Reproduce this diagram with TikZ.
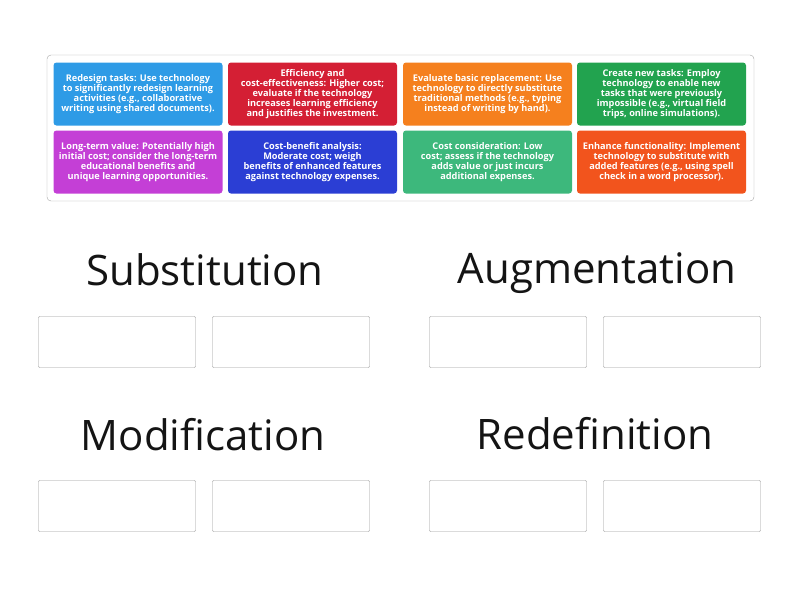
\documentclass[tikz,border=0pt]{standalone}
\usepackage{fontspec}
\setmainfont{Open Sans}
\usepackage{tikz}
\usetikzlibrary{positioning}

\definecolor{cardblue}{HTML}{2E9BE6}
\definecolor{cardred}{HTML}{D41F34}
\definecolor{cardorange}{HTML}{F5801E}
\definecolor{cardgreen}{HTML}{22A34F}
\definecolor{cardpurple}{HTML}{C43FD6}
\definecolor{cardnavy}{HTML}{2B3ED4}
\definecolor{cardteal}{HTML}{3DB87C}
\definecolor{cardflame}{HTML}{F2541D}

\tikzset{
  card/.style={rounded corners=3pt, minimum width=169pt, minimum height=63pt,
    inner sep=0pt, align=center, text=white,
    font=\fontsize{9.2}{10}\selectfont\bfseries},
  slot/.style={draw=black!40, fill=white, minimum width=157pt, minimum height=51pt,
    rounded corners=1pt, inner sep=0pt},
  heading/.style={font=\fontsize{42}{44}\selectfont, text=black!92, anchor=base}
}

\begin{document}
\begin{tikzpicture}[x=1pt,y=-1pt]
				\useasboundingbox (0,0) rectangle (800,600);
				\draw[black!35, rounded corners=4pt] (47,55) rectangle (754,201);
				% cards, upper row
				\node[card, fill=cardblue] (redesign) at (138,94) {Redesign tasks: Use technology\\to significantly redesign learning\\activities (e.g., collaborative\\writing using shared documents).};
				\node[card, fill=cardred] (efficiency) at (312.5,94) {Efficiency and\\cost-effectiveness: Higher cost;\\evaluate if the technology\\increases learning efficiency\\and justifies the investment.};
				\node[card, fill=cardorange] (replace) at (487.5,94) {Evaluate basic replacement: Use\\technology to directly substitute\\traditional methods (e.g., typing\\instead of writing by hand).};
				\node[card, fill=cardgreen] (create) at (661.5,94) {Create new tasks: Employ\\technology to enable new\\tasks that were previously\\impossible (e.g., virtual field\\trips, online simulations).};
				% cards, lower row
				\node[card, fill=cardpurple] (longterm) at (138,162) {Long-term value: Potentially high\\initial cost; consider the long-term\\educational benefits and\\unique learning opportunities.};
				\node[card, fill=cardnavy] (costbenefit) at (312.5,162) {Cost-benefit analysis:\\Moderate cost; weigh\\benefits of enhanced features\\against technology expenses.};
				\node[card, fill=cardteal] (costcons) at (487.5,162) {Cost consideration: Low\\cost; assess if the technology\\adds value or just incurs\\additional expenses.};
				\node[card, fill=cardflame] (enhance) at (661.5,162) {Enhance functionality: Implement\\technology to substitute with\\added features (e.g., using spell\\check in a word processor).};
				% groups
				\node[heading] (subst) at (205,285) {Substitution};
				\node[heading] (augm) at (597,283) {Augmentation};
				\node[heading] (modif) at (203,450) {Modification};
				\node[heading] (redef) at (595,449) {Redefinition};
				\node[slot] (subsa) at (117,342) {};
				\node[slot] (subsb) at (291,342) {};
				\node[slot] (augma) at (508,342) {};
				\node[slot] (augmb) at (682,342) {};
				\node[slot] (modia) at (117,506) {};
				\node[slot] (modib) at (291,506) {};
				\node[slot] (redea) at (508,506) {};
				\node[slot] (redeb) at (682,506) {};
			\end{tikzpicture}
\end{document}
